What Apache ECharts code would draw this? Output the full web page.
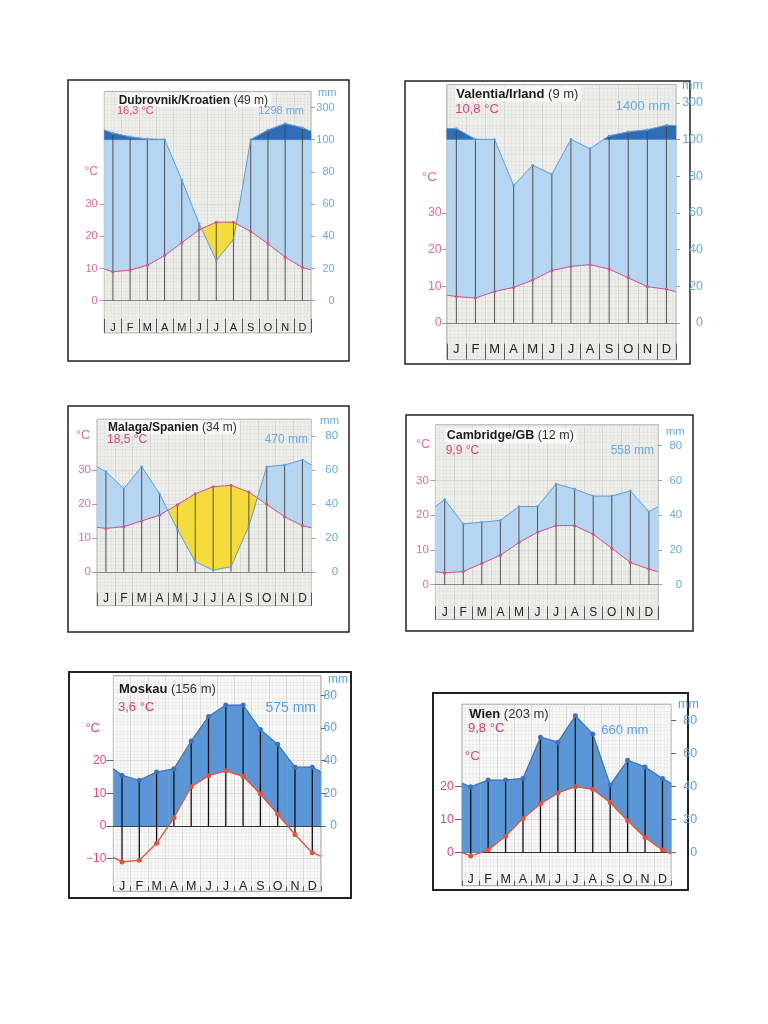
<!DOCTYPE html>
<html>
<head>
<meta charset="utf-8">
<title>Klimadiagramme</title>
<script src="https://cdn.jsdelivr.net/npm/echarts@6/dist/echarts.min.js"></script>
<style>
  html, body { margin: 0; padding: 0; background: #fff; }
  #main { width: 768px; height: 1024px; }
</style>
</head>
<body>
<div id="main"></div>
<script>
// months on the bottom strip
const months = ['J', 'F', 'M', 'A', 'M', 'J', 'J', 'A', 'S', 'O', 'N', 'D'];

// tick labels
const tempTicks = [0, 10, 20, 30];
const mosTempTicks = [-10, 0, 10, 20];
const wieTempTicks = [0, 10, 20];
const precTicksHigh = [0, 20, 40, 60, 80, 100, 300];
const precTicksLow = [0, 20, 40, 60, 80];

// Dubrovnik/Kroatien (°C, mm) – edge = value at left / right border of the diagram
const dubTemp = [9.0, 9.5, 11.0, 14.0, 18.0, 22.0, 24.4, 24.4, 21.5, 17.7, 13.5, 10.3];
const dubTempEdge = [9.8, 9.6];
const dubPrec = [141, 118, 104, 102, 75, 48, 25, 38, 101, 160, 200, 175];
const dubPrecEdge = [160, 152];

// Valentia/Irland
const valTemp = [7.2, 6.8, 8.6, 9.7, 11.7, 14.3, 15.4, 15.9, 14.7, 12.3, 9.9, 9.2];
const valTempEdge = [7.6, 8.5];
const valPrec = [160, 101, 100, 75, 86, 81, 101, 95, 120, 142, 153, 178];
const valPrecEdge = [160, 176];

// Malaga/Spanien
const malTemp = [12.8, 13.3, 15.0, 16.7, 19.8, 23.0, 25.1, 25.5, 23.5, 19.9, 16.2, 13.6];
const malTempEdge = [13.1, 13.0];
const malPrec = [59, 49, 62, 46, 25, 6, 1, 3, 27, 62, 63, 66];
const malPrecEdge = [62, 63];

// Cambridge/GB
const camTemp = [3.4, 3.8, 6.1, 8.5, 12.1, 15.1, 17.0, 17.0, 14.5, 10.5, 6.4, 4.5];
const camTempEdge = [3.7, 3.7];
const camPrec = [49, 35, 36, 37, 45, 45, 58, 55, 51, 51, 54, 42];
const camPrecEdge = [45, 45];

// Moskau
const mosTemp = [-11.0, -10.5, -5.3, 2.5, 12.0, 15.4, 16.9, 15.2, 9.8, 3.6, -2.6, -8.2];
const mosTempEdge = [-9.6, -9.2];
const mosPrec = [31, 28, 33, 35, 52, 67, 74, 74, 59, 50, 36, 36];
const mosPrecEdge = [35, 33];

// Wien
const wieTemp = [-1.0, 0.8, 5.0, 10.4, 14.8, 18.1, 20.0, 19.2, 15.2, 9.7, 4.6, 0.8];
const wieTempEdge = [0.0, -0.4];
const wiePrec = [40, 44, 44, 45, 70, 67, 83, 72, 41, 56, 52, 45];
const wiePrecEdge = [42, 42];

// above 100 mm the scale is reduced to 1/10
const scalePrec = p => (p <= 100 ? p : 100 + (p - 100) / 10);
const unscalePrec = v => (v <= 100 ? v : Math.round(100 + (v - 100) * 10));

const FONT = 'Liberation Sans, Arial, sans-serif';

const stations = [
  {
    name: 'Dubrovnik/Kroatien', alt: ' (49 m)', mean: '16,3 °C', total: '1298 mm',
    temp: dubTemp, tempEdge: dubTempEdge, prec: dubPrec, precEdge: dubPrecEdge,
    tTicks: tempTicks, pTicks: precTicksHigh,
    box: [68, 80, 281, 281], grid: [104.3, 91.4, 206.7, 241.5], tRange: [-10, 65],
    titleAt: [117.7, 100.3, 12], meanAt: [117, 111, 11], totalAt: [304, 111, 11],
    degAt: [98, 172], mmAt: [318, 93], fs: 11, monthFs: 11,
    lMargin: 6.6, rMargin: 23.7, monthMargin: 5.3, sepLen: 14, heavy: false
  },
  {
    name: 'Valentia/Irland', alt: ' (9 m)', mean: '10,8 °C', total: '1400 mm',
    temp: valTemp, tempEdge: valTempEdge, prec: valPrec, precEdge: valPrecEdge,
    tTicks: tempTicks, pTicks: precTicksHigh,
    box: [405, 81, 285, 283], grid: [446.8, 84.45, 229.2, 275.25], tRange: [-10, 65],
    titleAt: [455.3, 94, 13], meanAt: [455.3, 109, 13], totalAt: [670, 106.3, 13],
    degAt: [437, 177.3], mmAt: [682, 85.3], fs: 12.5, monthFs: 13,
    lMargin: 5, rMargin: 27, monthMargin: 10, sepLen: 16, heavy: false
  },
  {
    name: 'Malaga/Spanien', alt: ' (34 m)', mean: '18,5 °C', total: '470 mm',
    temp: malTemp, tempEdge: malTempEdge, prec: malPrec, precEdge: malPrecEdge,
    tTicks: tempTicks, pTicks: precTicksLow,
    box: [68, 406, 281, 226], grid: [97, 419.2, 214.4, 186.5], tRange: [-10, 45],
    titleAt: [107, 427.3, 12], meanAt: [107, 440, 12], totalAt: [308, 440, 12],
    degAt: [90, 435.7], mmAt: [320, 421.3], fs: 11.5, monthFs: 12,
    lMargin: 6, rMargin: 26.7, monthMargin: 7.4, sepLen: 13, heavy: false
  },
  {
    name: 'Cambridge/GB', alt: ' (12 m)', mean: '9,9 °C', total: '558 mm',
    temp: camTemp, tempEdge: camTempEdge, prec: camPrec, precEdge: camPrecEdge,
    tTicks: tempTicks, pTicks: precTicksLow,
    box: [406, 415, 287, 216], grid: [435.4, 424.8, 222.8, 194.7], tRange: [-10, 46],
    titleAt: [445.7, 436, 12.5], meanAt: [445.7, 450.7, 12], totalAt: [654, 450.7, 12],
    degAt: [430, 445], mmAt: [665.7, 431.7], fs: 11.5, monthFs: 12,
    lMargin: 6.5, rMargin: 24, monthMargin: 6.6, sepLen: 13, heavy: false
  },
  {
    name: 'Moskau', alt: ' (156 m)', mean: '3,6 °C', total: '575 mm',
    temp: mosTemp, tempEdge: mosTempEdge, prec: mosPrec, precEdge: mosPrecEdge,
    tTicks: mosTempTicks, pTicks: precTicksLow,
    box: [69, 672, 282, 226], grid: [113.35, 675.7, 207.6, 215.6], tRange: [-20, 46],
    titleAt: [118, 689.3, 13], meanAt: [118, 707.7, 13], totalAt: [316, 707.7, 14],
    degAt: [100, 728.3], mmAt: [328, 679.3], fs: 12, monthFs: 12.5,
    lMargin: 7, rMargin: 16, monthMargin: 5, sepLen: 5, heavy: true
  },
  {
    name: 'Wien', alt: ' (203 m)', mean: '9,8 °C', total: '660 mm',
    temp: wieTemp, tempEdge: wieTempEdge, prec: wiePrec, precEdge: wiePrecEdge,
    tTicks: wieTempTicks, pTicks: precTicksLow,
    box: [433, 693, 255, 197], grid: [462, 704.2, 209.2, 181.5], tRange: [-10, 45],
    titleAt: [468.3, 714, 13], meanAt: [468, 728.3, 13], totalAt: [648.3, 730, 13],
    degAt: [480, 756], mmAt: [678, 705], fs: 12.5, monthFs: 12.5,
    lMargin: 8, rMargin: 26, monthMargin: 5.7, sepLen: 5, heavy: true
  }
];

const option = {
  animation: false,
  grid: [], xAxis: [], yAxis: [], series: [], graphic: []
};

// polygons between the curves: humid (blue), arid (yellow), > 100 mm (dark blue)
function fillRenderer(xs, T2, PS, col) {
  return function (params, api) {
    const i = params.dataIndex;
    const lerp = (arr, t) => arr[i] + (arr[i + 1] - arr[i]) * t;
    const ts = [0, 1];
    const cross = (d0, d1) => {
      if ((d0 < 0 && d1 > 0) || (d0 > 0 && d1 < 0)) ts.push(d0 / (d0 - d1));
    };
    cross(PS[i] - 100, PS[i + 1] - 100);
    cross(PS[i] - T2[i], PS[i + 1] - T2[i + 1]);
    cross(T2[i], T2[i + 1]);
    ts.sort((a, b) => a - b);
    const X = t => xs[i] + (xs[i + 1] - xs[i]) * t;
    const U = t => Math.min(lerp(PS, t), 100);
    const L = t => Math.max(lerp(T2, t), 0);
    const T = t => lerp(T2, t);
    const children = [];
    const poly = (pts, fill) => children.push({
      type: 'polygon',
      shape: { points: pts.map(p => api.coord(p)) },
      style: { fill: fill, stroke: fill, lineWidth: 0.4 }
    });
    for (let j = 0; j < ts.length - 1; j++) {
      const a = ts[j], b = ts[j + 1];
      if (b - a < 1e-9) continue;
      const m = (a + b) / 2;
      if (U(m) > L(m)) {
        poly([[X(a), U(a)], [X(b), U(b)], [X(b), L(b)], [X(a), L(a)]], col.humid);
      } else if (T(m) > U(m)) {
        poly([[X(a), T(a)], [X(b), T(b)], [X(b), U(b)], [X(a), U(a)]], col.arid);
      }
      if (lerp(PS, m) > 100) {
        poly([[X(a), lerp(PS, a)], [X(b), lerp(PS, b)], [X(b), 100], [X(a), 100]], col.wet);
      }
    }
    return { type: 'group', children: children };
  };
}

stations.forEach((st, k) => {
  const heavy = st.heavy;
  const col = heavy ? {
    paper: '#f8f8f7', major: '#d3d3d3', minor: '#e7e7e7', border: '#9a9a9a', zero: '#333',
    humid: '#5b97d6', arid: '#f3dc3c', wet: '#2f6db9',
    pLine: '#3c73c0', tLine: '#e5533a', stem: '#111', stemW: 1.3,
    tLabel: '#e6457c', pLabel: '#5a9ee0', tick: '#666', text: '#e03a62'
  } : {
    paper: '#eeeeeb', major: '#cfcfcb', minor: '#dfdfdc', border: '#aaaaaa', zero: '#888',
    humid: 'rgba(178,212,241,0.92)', arid: '#f3dc3c', wet: '#2f6db9',
    pLine: '#5c9fd8', tLine: '#d4508a', stem: '#444', stemW: 0.9,
    tLabel: '#e36c97', pLabel: '#68aadf', tick: '#a0a0a0', text: '#d9457a'
  };
  const g = st.grid;
  const tMin = st.tRange[0], tMax = st.tRange[1];
  const xi = 2 * k, yi = 2 * k;

  // x positions: borders 0 and 12, months at their middle
  const xs = [0].concat(months.map((m, i) => i + 0.5), [12]);
  const T = [st.tempEdge[0]].concat(st.temp, [st.tempEdge[1]]);
  const P = [st.precEdge[0]].concat(st.prec, [st.precEdge[1]]);
  const T2 = T.map(v => 2 * v);
  const PS = P.map(scalePrec);

  option.grid.push({
    left: g[0], top: g[1], width: g[2], height: g[3],
    show: true, backgroundColor: col.paper, borderColor: col.border, borderWidth: 1
  });

  option.xAxis.push({
    type: 'value', gridIndex: k, min: 0, max: 12, interval: 1,
    axisLabel: { show: false }, axisTick: { show: false },
    axisLine: { show: true, onZero: true, lineStyle: { color: col.zero, width: 1 } },
    splitLine: { show: true, lineStyle: { color: col.major, width: 0.8 } },
    minorTick: { show: false, splitNumber: 5 },
    minorSplitLine: { show: true, lineStyle: { color: col.minor, width: 0.6 } }
  });
  option.xAxis.push({
    type: 'category', gridIndex: k, data: months, position: 'bottom', boundaryGap: true,
    axisLine: { show: false, onZero: false },
    axisTick: { show: true, inside: true, length: st.sepLen, lineStyle: { color: '#555', width: 1 } },
    axisLabel: {
      inside: true, margin: st.monthMargin, verticalAlign: 'middle',
      color: '#222', fontSize: st.monthFs, fontFamily: FONT
    },
    splitLine: { show: false }
  });

  option.yAxis.push({
    type: 'value', gridIndex: k, position: 'left', min: tMin, max: tMax, interval: 5,
    axisLine: { show: false },
    axisTick: { show: true, customValues: st.tTicks, length: heavy ? 7 : 5, lineStyle: { color: col.tick } },
    axisLabel: {
      customValues: st.tTicks, margin: st.lMargin, color: col.tLabel,
      fontSize: st.fs, fontFamily: FONT,
      formatter: v => (v < 0 ? '\u2212' + Math.abs(v) : String(v))
    },
    splitLine: { show: true, lineStyle: { color: col.major, width: 0.8 } },
    minorTick: { show: false, splitNumber: 5 },
    minorSplitLine: { show: true, lineStyle: { color: col.minor, width: 0.6 } }
  });
  option.yAxis.push({
    type: 'value', gridIndex: k, position: 'right', min: 2 * tMin, max: 2 * tMax, interval: 10,
    axisLine: { show: false },
    axisTick: { show: true, customValues: st.pTicks.map(scalePrec), length: heavy ? 5 : 4, lineStyle: { color: col.tick } },
    axisLabel: {
      customValues: st.pTicks.map(scalePrec), margin: st.rMargin, align: 'right',
      color: col.pLabel, fontSize: st.fs, fontFamily: FONT,
      formatter: v => String(unscalePrec(v))
    },
    splitLine: { show: false }
  });

  // filled areas
  option.series.push({
    type: 'custom', xAxisIndex: xi, yAxisIndex: yi + 1, silent: true, z: 2,
    data: xs.slice(0, -1).map((x, i) => [x, i]),
    encode: { x: 0, y: 1 },
    renderItem: fillRenderer(xs, T2, PS, col)
  });

  // vertical month lines
  option.series.push({
    type: 'custom', xAxisIndex: xi, yAxisIndex: yi + 1, silent: true, z: 3,
    data: months.map((m, i) => [i + 0.5, Math.max(PS[i + 1], T2[i + 1]), Math.min(T2[i + 1], 0)]),
    encode: { x: 0, y: [1, 2] },
    renderItem: (params, api) => {
      const a = api.coord([api.value(0), api.value(1)]);
      const b = api.coord([api.value(0), api.value(2)]);
      return {
        type: 'line',
        shape: { x1: a[0], y1: a[1], x2: b[0], y2: b[1] },
        style: { stroke: col.stem, lineWidth: col.stemW }
      };
    }
  });

  const pts = (ys) => xs.map((x, i) => (i === 0 || i === xs.length - 1)
    ? { value: [x, ys[i]], symbol: 'none' }
    : [x, ys[i]]);

  // precipitation line
  option.series.push({
    type: 'line', xAxisIndex: xi, yAxisIndex: yi + 1, silent: true, z: 4,
    data: pts(PS),
    symbol: 'circle', symbolSize: heavy ? 5 : 2.5,
    lineStyle: { color: col.pLine, width: heavy ? 1.2 : 1 },
    itemStyle: { color: col.pLine }
  });

  // temperature line
  option.series.push({
    type: 'line', xAxisIndex: xi, yAxisIndex: yi, silent: true, z: 5,
    data: pts(T),
    symbol: 'circle', symbolSize: heavy ? 5 : 3,
    lineStyle: { color: col.tLine, width: heavy ? 1.3 : 1 },
    itemStyle: { color: col.tLine }
  });

  // frame
  option.graphic.push({
    type: 'rect', silent: true, z: -10,
    shape: { x: st.box[0], y: st.box[1], width: st.box[2], height: st.box[3] },
    style: { fill: 'none', stroke: '#222', lineWidth: heavy ? 2 : 1.5 }
  });

  // texts
  option.graphic.push({
    type: 'text', silent: true, z: 50, x: st.titleAt[0], y: st.titleAt[1],
    style: {
      text: '{b|' + st.name + '}' + st.alt,
      rich: { b: { fontWeight: 'bold', fontSize: st.titleAt[2], fontFamily: FONT, fill: '#1a1a1a' } },
      fontSize: st.titleAt[2], fontFamily: FONT, fill: '#333',
      textAlign: 'left', textVerticalAlign: 'middle',
      backgroundColor: heavy ? 'transparent' : 'rgba(255,255,255,0.7)', padding: [1, 3, 1, 1]
    }
  });
  option.graphic.push({
    type: 'text', silent: true, z: 50, x: st.meanAt[0], y: st.meanAt[1],
    style: {
      text: st.mean, fontSize: st.meanAt[2], fontFamily: FONT, fill: col.text,
      textAlign: 'left', textVerticalAlign: 'middle'
    }
  });
  option.graphic.push({
    type: 'text', silent: true, z: 50, x: st.totalAt[0], y: st.totalAt[1],
    style: {
      text: st.total, fontSize: st.totalAt[2], fontFamily: FONT, fill: col.pLabel,
      textAlign: 'right', textVerticalAlign: 'middle'
    }
  });
  option.graphic.push({
    type: 'text', silent: true, z: 50, x: st.degAt[0], y: st.degAt[1],
    style: {
      text: '°C', fontSize: st.fs + 1, fontFamily: FONT, fill: col.tLabel,
      textAlign: 'right', textVerticalAlign: 'middle'
    }
  });
  option.graphic.push({
    type: 'text', silent: true, z: 50, x: st.mmAt[0], y: st.mmAt[1],
    style: {
      text: 'mm', fontSize: st.fs, fontFamily: FONT, fill: col.pLabel,
      textAlign: 'left', textVerticalAlign: 'middle'
    }
  });
});

const myChart = echarts.init(document.getElementById('main'), null, { renderer: 'canvas' });
myChart.setOption(option);
</script>
</body>
</html>
